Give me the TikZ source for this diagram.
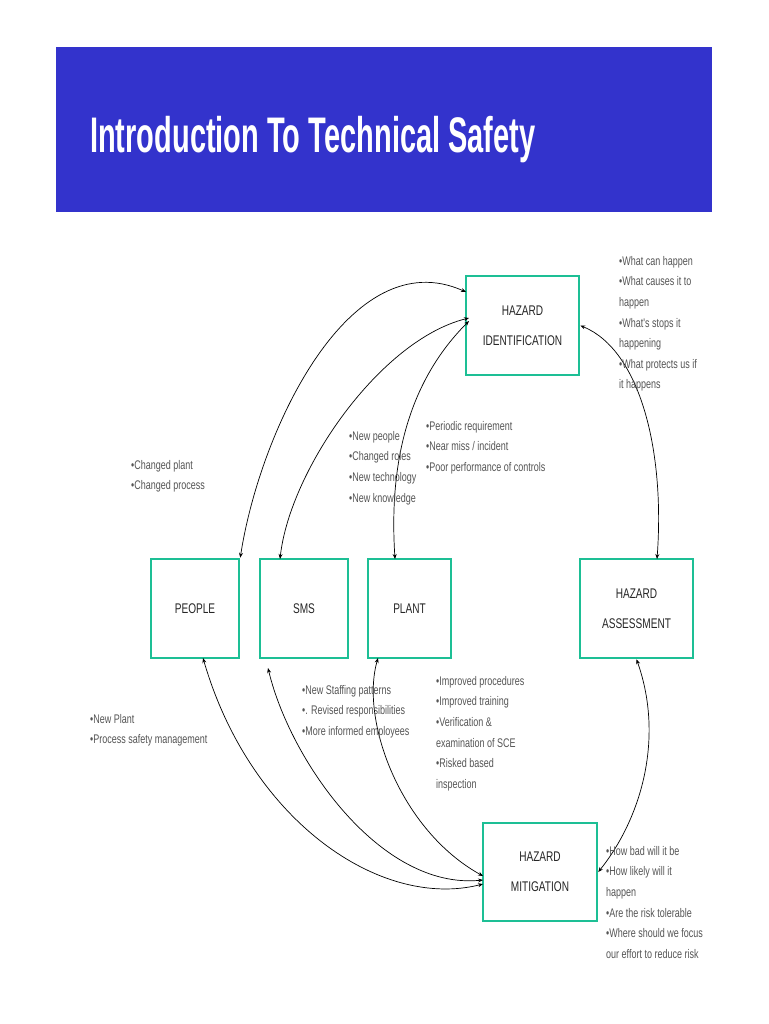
\documentclass[tikz,border=0pt]{standalone}
\usepackage{fontspec}
\setmainfont{Liberation Sans}
\newfontfamily\narrow{Liberation Sans}[FakeStretch=0.72]
\newfontfamily\titlef{Liberation Sans Bold}[FakeStretch=0.58]
\usetikzlibrary{arrows.meta}
\definecolor{banner}{HTML}{3333CC}
\definecolor{teal}{HTML}{1DBF95}
\definecolor{txt}{HTML}{555555}
\begin{document}
\begin{tikzpicture}[x=1pt,y=-1pt,
  box/.style={draw=teal,line width=2.5pt,fill=white,align=center,font=\narrow\fontsize{14}{30}\selectfont,text=black!85},
  note/.style={anchor=north west,align=left,inner sep=0pt,text=txt,font=\narrow\fontsize{12.5}{20.6}\selectfont},
  link/.style={{Stealth[length=5pt,width=4pt]}-{Stealth[length=5pt,width=4pt]},line width=0.7pt}]
\useasboundingbox (0,0) rectangle (768,1024);
\fill[banner] (56,47) rectangle (712,212);
\node[anchor=west,text=white,font=\titlef\fontsize{50}{50}\selectfont,inner sep=0pt] (title) at (90,140) {Introduction To Technical Safety};
\node[box,minimum width=113pt,minimum height=99pt] (hi) at (522.5,325.5) {HAZARD\\IDENTIFICATION};
\node[box,minimum width=88pt,minimum height=99pt] (people) at (195,608.5) {PEOPLE};
\node[box,minimum width=88pt,minimum height=99pt] (sms) at (304,608.5) {SMS};
\node[box,minimum width=83pt,minimum height=99pt] (plant) at (409.5,608.5) {PLANT};
\node[box,minimum width=113pt,minimum height=99pt] (ha) at (636.5,608.5) {HAZARD\\ASSESSMENT};
\node[box,minimum width=114pt,minimum height=98pt] (hm) at (540,872) {HAZARD\\MITIGATION};
\coordinate (hi1) at (466,292);
\coordinate (hi2) at (469,318);
\coordinate (hi3) at (469,321);
\coordinate (hm1) at (483,884);
\coordinate (hm2) at (483,880);
\coordinate (hm3) at (483,876);
\draw[link] (hi1) .. controls (350,240) and (260,430) .. (people.north east);
\draw[link] (hi2) .. controls (380,340) and (290,470) .. (280,559);
\draw[link] (hi3) .. controls (400,390) and (390,480) .. (395,559);
\draw[link] (hi.east) .. controls (640,350) and (665,450) .. (657,559);
\draw[link] (ha.south) .. controls (665,740) and (640,820) .. (hm.east);
\draw[link] (hm1) .. controls (380,910) and (250,820) .. (203,658);
\draw[link] (hm2) .. controls (380,890) and (290,760) .. (268,668);
\draw[link] (hm3) .. controls (400,830) and (360,720) .. (378,658);
\node[note] (n1) at (619,256) {•What can happen\\•What causes it to\\happen\\•What's stops it\\happening\\•What protects us if\\it happens};
\node[note] (n2) at (426,421) {•Periodic requirement\\•Near miss / incident\\•Poor performance of controls};
\node[note] (n3) at (349,431) {•New people\\•Changed roles\\•New technology\\•New knowledge};
\node[note] (n4) at (131,460) {•Changed plant\\•Changed process};
\node[note] (n5) at (302,685) {•New Staffing patterns\\•. Revised responsibilities\\•More informed employees};
\node[note] (n6) at (436,676) {•Improved procedures\\•Improved training\\•Verification \&\\examination of SCE\\•Risked based\\inspection};
\node[note] (n7) at (90,714) {•New Plant\\•Process safety management};
\node[note] (n8) at (606,846) {•How bad will it be\\•How likely will it\\happen\\•Are the risk tolerable\\•Where should we focus\\our effort to reduce risk};
\end{tikzpicture}
\end{document}
